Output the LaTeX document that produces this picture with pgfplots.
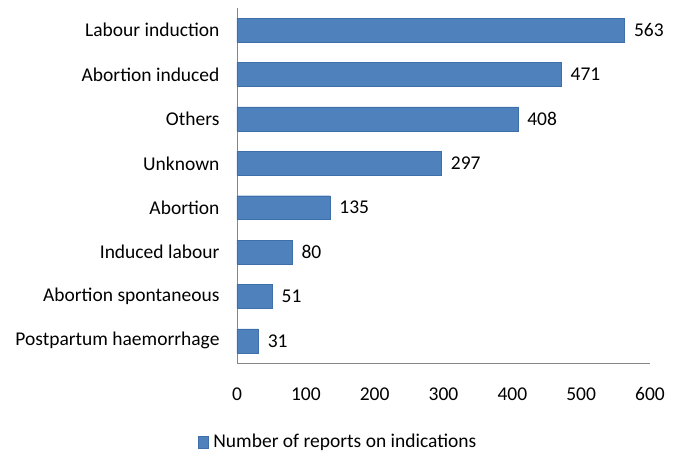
\documentclass[border=0pt]{standalone}
\usepackage{pgfplots}
\pgfplotsset{compat=1.18}
\usepackage{fontspec}
\setmainfont{Carlito}
\definecolor{barblue}{HTML}{4F81BD}
\definecolor{barline}{HTML}{3F6FAA}
\definecolor{axgray}{HTML}{868686}
\begin{document}
\begin{tikzpicture}
\path[use as bounding box] (-237bp,-111bp) rectangle (448bp,363bp);
\begin{axis}[
  at={(0,0)}, anchor=south west,
  scale only axis, width=413bp, height=355bp,
  xbar, bar width=0.54,
  xmin=0, xmax=600, ymin=-0.5, ymax=7.5,
  axis x line*=bottom, axis y line*=left,
  axis line style={axgray, line width=0.8pt},
  xtick={0,100,...,600},
  ytick={0,...,7},
  yticklabels={Postpartum haemorrhage,Abortion spontaneous,Induced labour,Abortion,Unknown,Others,Abortion induced,Labour induction},
  major tick length=0pt,
  /pgf/number format/assume math mode=true,
  tick label style={font=\fontsize{19.5bp}{22bp}\selectfont, black},
  xticklabel style={yshift=-21bp},
  yticklabel style={xshift=-14bp},
  nodes near coords,
  nodes near coords style={font=\fontsize{19.5bp}{22bp}\selectfont, black, xshift=6bp},
  legend style={at={(-0.0944,-0.222)}, anchor=west, draw=none, fill=none,
    font=\fontsize{19.5bp}{22bp}\selectfont, inner sep=0pt},
  legend image code/.code={\draw[fill=barblue, draw=barline] (0bp,-6bp) rectangle (9.5bp,6bp); \path[draw=none,fill=none] (0bp,0bp) rectangle (13bp,0.1bp);},
]
\addplot[fill=barblue, draw=barline] coordinates {
(31,0) (51,1) (80,2) (135,3) (297,4) (408,5) (471,6) (563,7)};
\addlegendentry{Number of reports on indications}
\end{axis}
\end{tikzpicture}
\end{document}
